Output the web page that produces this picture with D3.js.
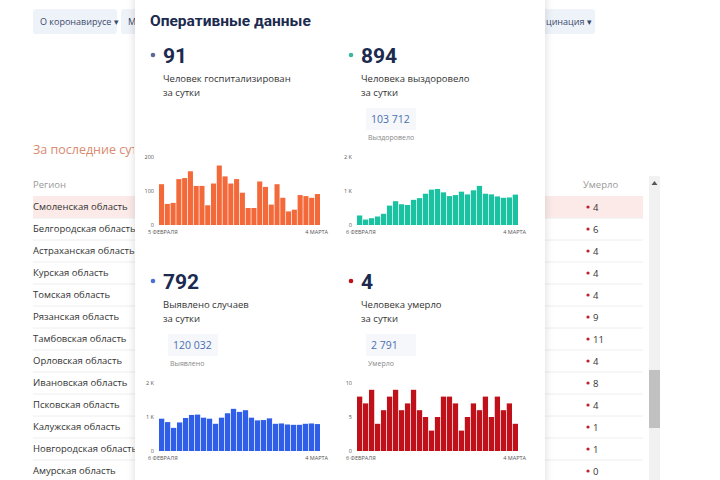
<!DOCTYPE html><html><head><meta charset="utf-8">
<script src="https://cdn.jsdelivr.net/npm/d3@7"></script>
<style>body{margin:0;background:#fff;}svg{font-family:"Open Sans","Noto Sans",sans-serif;display:block}</style></head><body>
<svg id="c" width="720" height="480"></svg>
<script>
const hospital=[120,62,65,135,138,158,115,115,58,122,175,143,122,135,95,50,50,128,112,60,120,80,40,45,88,85,80,91];
const recovered=[280,160,200,250,330,570,700,610,590,740,790,920,1040,1060,960,850,880,980,900,1020,1150,920,900,840,800,810,894];
const detected=[950,850,680,840,970,1060,1070,980,950,800,980,1110,1240,1150,1200,980,900,910,960,800,810,780,770,770,800,810,792];
const deaths=[8,7,9,4,6,8,9,6,7,9,6,5,3,5,8,8,7,3,5,7,6,8,5,8,6,7,4];
const regions=["Смоленская область","Белгородская область","Астраханская область","Курская область","Томская область","Рязанская область","Тамбовская область","Орловская область","Ивановская область","Псковская область","Калужская область","Новгородская область","Амурская область"];
const regionDeaths=[4,6,4,4,4,9,11,4,8,4,1,1,0];
const svg=d3.select("#c");
const defs=svg.append("defs");
defs.append("clipPath").attr("id","lc").append("rect").attr("x",0).attr("y",0).attr("width",134).attr("height",480);
svg.append("rect").attr("x",33).attr("y",9).attr("width",84).attr("height",25).attr("rx",3).attr("fill","#eef2f9");
svg.append("text").attr("x",40).attr("y",25).attr("font-size",9).attr("fill","#3a4a6a").text("О коронавирусе ▾");
svg.append("rect").attr("x",121).attr("y",9).attr("width",20).attr("height",25).attr("rx",3).attr("fill","#eef2f9");
svg.append("text").attr("x",128).attr("y",25).attr("font-size",9).attr("fill","#3a4a6a").text("М");
svg.append("rect").attr("x",530).attr("y",9).attr("width",65).attr("height",25).attr("rx",3).attr("fill","#eef2f9");
svg.append("text").attr("x",546).attr("y",25).attr("font-size",9).attr("fill","#3a4a6a").text("цинация ▾");
svg.append("text").attr("clip-path","url(#lc)").attr("x",33).attr("y",154).attr("font-size",12.5).attr("fill","#d98a70").text("За последние сутки");
svg.append("text").attr("x",33).attr("y",188).attr("font-size",9.5).attr("fill","#999").text("Регион");
svg.append("text").attr("x",583).attr("y",188).attr("font-size",9.5).attr("fill","#999").text("Умерло");
const rowY=d3.scaleBand().domain(d3.range(regions.length)).range([196,482]);
regions.forEach((r,i)=>{
  const y=rowY(i);
  if(i==0) svg.append("rect").attr("x",33).attr("y",y).attr("width",610).attr("height",rowY.bandwidth()).attr("fill","#fbeae8");
  svg.append("line").attr("x1",33).attr("x2",643).attr("y1",y+rowY.bandwidth()).attr("y2",y+rowY.bandwidth()).attr("stroke","#eee");
  svg.append("text").attr("x",33).attr("y",y+14).attr("font-size",9.5).attr("fill","#333").text(r);
  svg.append("circle").attr("cx",588).attr("cy",y+11).attr("r",1.6).attr("fill","#c0202a");
  svg.append("text").attr("x",593).attr("y",y+14.5).attr("font-size",9.5).attr("fill","#333").text(regionDeaths[i]);
});
svg.append("rect").attr("x",649).attr("y",176).attr("width",11).attr("height",304).attr("fill","#f1f1f1");
svg.append("rect").attr("x",649).attr("y",370).attr("width",11).attr("height",58).attr("fill","#c1c1c1");
svg.append("path").attr("d","M651.5,185 L654.5,181 L657.5,185Z").attr("fill","#555");
const f=defs.append("filter").attr("id","sh").attr("x",-0.1).attr("y",-0.1).attr("width",1.2).attr("height",1.2);
f.append("feDropShadow").attr("dx",0).attr("dy",0).attr("stdDeviation",4).attr("flood-color","#000").attr("flood-opacity",0.15);
svg.append("rect").attr("x",135).attr("y",-10).attr("width",410).attr("height",500).attr("fill","#fff").attr("filter","url(#sh)");
svg.append("text").attr("x",150).attr("y",26).attr("font-size",15.5).attr("font-weight",700).attr("fill","#1b2a4e").attr("font-family","Roboto").text("Оперативные данные");
function block(x,y,color,dot,big,l1,l2,box,boxLabel,data,ticks,tickFmt,max,start){
  svg.append("circle").attr("cx",x+5).attr("cy",y-4).attr("r",2.3).attr("fill",dot);
  svg.append("text").attr("x",x+15).attr("y",y+4).attr("font-size",21).attr("font-weight",700).attr("fill","#1b2a4e").attr("font-family","Roboto").text(big);
  svg.append("text").attr("x",x+15).attr("y",y+23).attr("font-size",9.5).attr("fill","#333").text(l1);
  svg.append("text").attr("x",x+15).attr("y",y+37).attr("font-size",9.5).attr("fill","#333").text(l2);
  if(box){
    svg.append("rect").attr("x",x+20).attr("y",y+49).attr("width",50).attr("height",22).attr("fill","#f5f7fb");
    svg.append("text").attr("x",x+25).attr("y",y+64).attr("font-size",10.5).attr("fill","#4a6fb0").text(box);
    svg.append("text").attr("x",x+22).attr("y",y+81).attr("font-size",7).attr("fill","#888").text(boxLabel);
  }
  const top=y+98, base=y+166;
  const ys=d3.scaleLinear().domain([0,max]).range([base,top]);
  const xs=d3.scaleBand().domain(d3.range(data.length)).range([x+11,x+172]).paddingInner(0.12);
  const g=svg.append("g");
  g.selectAll("rect").data(data).join("rect").attr("x",(d,i)=>xs(i)).attr("width",xs.bandwidth()).attr("y",d=>ys(d)).attr("height",d=>base-ys(d)).attr("fill",color);
  ticks.forEach(t=>{svg.append("text").attr("x",x+6).attr("y",ys(t)+2).attr("text-anchor","end").attr("font-size",5.5).attr("fill","#555").text(tickFmt(t));});
  svg.append("text").attr("x",x).attr("y",base+9).attr("font-size",5.5).attr("fill","#555").text(start);
  svg.append("text").attr("x",x+180).attr("y",base+9).attr("text-anchor","end").attr("font-size",5.5).attr("fill","#555").text("4 МАРТА");
}
const kf=t=>t===0?"0":(t/1000)+" K";
block(148,59,"#f4693a","#5b6a95","91","Человек госпитализирован","за сутки",null,null,hospital,[0,100,200],t=>t,200,"5 ФЕВРАЛЯ");
block(346,59,"#19c2a0","#3cb8a0","894","Человека выздоровело","за сутки","103 712","Выздоровело",recovered,[0,1000,2000],kf,2000,"6 ФЕВРАЛЯ");
block(148,285,"#2f5ee8","#4a6fd8","792","Выявлено случаев","за сутки","120 032","Выявлено",detected,[0,1000,2000],kf,2000,"6 ФЕВРАЛЯ");
block(346,285,"#c0101a","#c0101a","4","Человека умерло","за сутки","2 791","Умерло",deaths,[0,5,10],t=>t,10,"6 ФЕВРАЛЯ");
</script></body></html>
